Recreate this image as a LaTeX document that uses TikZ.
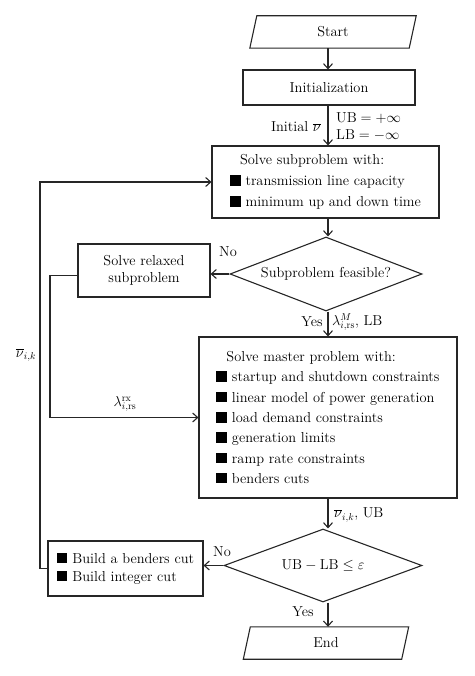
\documentclass[tikz,border=0pt]{standalone}
\usetikzlibrary{arrows.meta,shapes.geometric}
\newcommand\sqb{\rule{10.5pt}{10.5pt}\hspace{5pt}}
\definecolor{lc}{gray}{0.15}
\begin{document}
\begin{tikzpicture}[x=1pt,y=-1pt,
  every node/.style={font=\fontsize{14.4}{17}\selectfont, text=black},
  ln/.style={draw=lc, line width=1.1pt},
  arr/.style={ln, -{Straight Barb[length=5pt,width=9pt]}},
  box/.style={ln, inner sep=0pt},
  para/.style={inner sep=0pt, minimum height=32pt},
  dia/.style={ln, diamond, inner sep=0pt},
  lab/.style={inner sep=0pt}]
\useasboundingbox (0,0) rectangle (474,676);
\coordinate (fx) at (328,0);
\coordinate (lxa) at (50,0);
\coordinate (lxb) at (40,0);

% start
\node[para, minimum width=159pt] (start) at (333,32) {Start};
\draw[ln] ([xshift=3.5pt]start.north west) -- ([xshift=3.5pt]start.north east)
  -- ([xshift=-3.5pt]start.south east) -- ([xshift=-3.5pt]start.south west) -- cycle;

\node[box, minimum width=172pt, minimum height=35pt] (init) at (329,87.5) {Initialization};

\node[box, minimum width=227pt, minimum height=72pt, align=left,
  font=\fontsize{14.4}{21}\selectfont] (sub) at (325.5,182)
  {\hspace*{10pt}Solve subproblem with:\\ \sqb transmission line capacity\\ \sqb minimum up and down time};

\node[dia, minimum width=192pt, minimum height=74pt, aspect=2.6] (d1) at (326,274) {Subproblem feasible?};

\node[box, minimum width=132pt, minimum height=53pt, align=center,
  font=\fontsize{14.4}{16.5}\selectfont] (relax) at (144,270.5) {Solve relaxed\\subproblem};

\node[box, minimum width=258pt, minimum height=161pt, align=left,
  font=\fontsize{14.4}{20.3}\selectfont] (master) at (328,417.5)
  {\hspace*{10pt}Solve master problem with:\\
   \sqb startup and shutdown constraints\\
   \sqb linear model of power generation\\
   \sqb load demand constraints\\
   \sqb generation limits\\
   \sqb ramp rate constraints\\
   \sqb benders cuts};

\node[dia, minimum width=198pt, minimum height=73pt, aspect=2.7] (d2) at (323,565.5) {$\mathrm{UB}-\mathrm{LB}\leq\varepsilon$};

\node[box, minimum width=155pt, minimum height=55pt, align=left,
  font=\fontsize{14.4}{18}\selectfont] (build) at (125.5,568.5)
  {\sqb Build a benders cut\\ \sqb Build integer cut};

% end
\node[para, minimum width=158pt] (end) at (326,643) {End};
\draw[ln] ([xshift=3.5pt]end.north west) -- ([xshift=3.5pt]end.north east)
  -- ([xshift=-3.5pt]end.south east) -- ([xshift=-3.5pt]end.south west) -- cycle;

% main flow
\draw[arr] (start.south -| fx) -- (init.north -| fx);
\draw[arr] (init.south -| fx) -- (sub.north -| fx);
\draw[arr] (sub.south -| fx) -- (d1.north -| fx);
\draw[arr] (d1.south -| fx) -- (master.north -| fx);
\draw[arr] (master.south -| fx) -- (d2.north -| fx);
\draw[arr] (d2.south -| fx) -- (end.north -| fx);
\draw[arr] (d1.west) -- (d1.west -| relax.east);
\draw[arr] (d2.west) -- (d2.west -| build.east);
\draw[arr] ([yshift=-5pt]relax.west) -- ([yshift=-5pt]relax.west -| lxa) |- (master.west);
\draw[arr] (build.west) -- (build.west -| lxb) |- (sub.west);

% labels
\node[lab, anchor=east] (linit) at (321,127) {Initial $\overline{\nu}$};
\node[lab, anchor=west, align=left, font=\fontsize{14.4}{17}\selectfont] (lub) at (336,126.5) {$\mathrm{UB}=+\infty$\\$\mathrm{LB}=-\infty$};
\node[lab] (lno1) at (228,252) {No};
\node[lab] (lyes1) at (312,322) {Yes};
\node[lab, anchor=west] (llm) at (332,322) {$\lambda^{M}_{i,\mathrm{rs}}$, LB};
\node[lab] (lrx) at (125,404) {$\lambda^{\mathrm{rx}}_{i,\mathrm{rs}}$};
\node[lab] (lnu) at (26,355) {$\overline{\nu}_{i,k}$};
\node[lab, anchor=west] (lnub) at (334,515) {$\overline{\nu}_{i,k}$, UB};
\node[lab] (lno2) at (222,552) {No};
\node[lab] (lyes2) at (303,612) {Yes};
\end{tikzpicture}
\end{document}
